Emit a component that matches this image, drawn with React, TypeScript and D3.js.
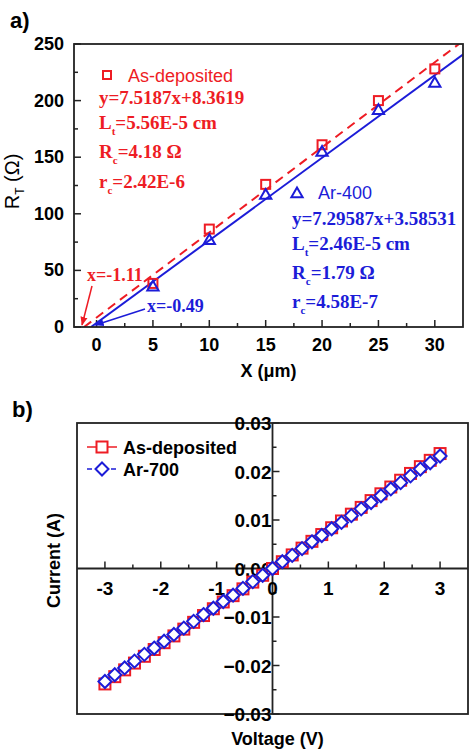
import React, { useEffect, useRef } from "react";
import * as d3 from "d3";

// TLM data (panel a)
const tlmSpacing = [5, 10, 15, 20, 25, 30];
const rtAsDeposited = [38.5, 86.5, 126, 161, 200, 228];
const rtAr400 = [36, 77, 117, 155, 192, 216];
const fitAsDeposited = { slope: 7.5187, intercept: 8.3619, xCut: -1.11 };
const fitAr400 = { slope: 7.29587, intercept: 3.58531, xCut: -0.49 };
const xTicksA = [0, 5, 10, 15, 20, 25, 30];
const yTicksA = [0, 50, 100, 150, 200, 250];

// I-V sweep (panel b)
const voltage = [
  -3.0, -2.824, -2.647, -2.471, -2.294, -2.118, -1.941, -1.765, -1.588, -1.412,
  -1.235, -1.059, -0.882, -0.706, -0.529, -0.353, -0.176, 0, 0.176, 0.353,
  0.529, 0.706, 0.882, 1.059, 1.235, 1.412, 1.588, 1.765, 1.941, 2.118, 2.294,
  2.471, 2.647, 2.824, 3.0,
];
const currentAsDeposited = [
  -0.0238, -0.0223, -0.0209, -0.0195, -0.0181, -0.0167, -0.0153, -0.0139,
  -0.0125, -0.0111, -0.0097, -0.0083, -0.0069, -0.0056, -0.0042, -0.0028,
  -0.0014, 0.0, 0.0014, 0.0028, 0.0042, 0.0056, 0.007, 0.0084, 0.0098, 0.0112,
  0.0126, 0.014, 0.0154, 0.0168, 0.0182, 0.0196, 0.021, 0.0223, 0.0237,
];
const currentAr700 = [
  -0.0233, -0.0219, -0.0205, -0.0191, -0.0177, -0.0164, -0.015, -0.0136,
  -0.0123, -0.0109, -0.0095, -0.0082, -0.0068, -0.0055, -0.0041, -0.0027,
  -0.0014, 0.0, 0.0014, 0.0027, 0.0041, 0.0055, 0.0068, 0.0082, 0.0095, 0.0109,
  0.0123, 0.0136, 0.015, 0.0164, 0.0177, 0.0191, 0.0205, 0.0218, 0.0232,
];
const xTicksB = [-3, -2, -1, 0, 1, 2, 3];
const yTicksB = [-0.03, -0.02, -0.01, 0, 0.01, 0.02, 0.03];

const RED = "#ee1c24";
const BLUE = "#1c1cd8";
const AXIS = "#222";
const SANS = "'Liberation Sans', Arial, sans-serif";
const SERIF = "'Liberation Serif', 'Times New Roman', serif";

type Sel = d3.Selection<SVGSVGElement, unknown, null, undefined>;
type Fit = { slope: number; intercept: number; xCut: number };

const App: React.FC = () => {
  const ref = useRef<SVGSVGElement>(null);
  const width = 474;
  const height = 751;

  useEffect(() => {
    const svg = d3.select(ref.current!) as Sel;
    svg.selectAll("*").remove();

    const defs = svg.append("defs");
    [
      ["arrowRed", RED],
      ["arrowBlue", BLUE],
    ].forEach(([id, color]) => {
      defs
        .append("marker")
        .attr("id", id)
        .attr("viewBox", "0 0 10 10")
        .attr("refX", 9)
        .attr("refY", 5)
        .attr("markerWidth", 6)
        .attr("markerHeight", 6)
        .attr("orient", "auto")
        .append("path")
        .attr("d", "M0,1 L10,5 L0,9 Z")
        .attr("fill", color);
    });

    drawPanelA(svg);
    drawPanelB(svg);
  }, []);

  const drawPanelA = (svg: Sel) => {
    const left = 74,
      right = 463,
      top = 44,
      bottom = 327;
    const x = d3.scaleLinear().domain([-2, 32.5]).range([left, right]);
    const y = d3.scaleLinear().domain([0, 250]).range([bottom, top]);
    const g = svg.append("g");

    g.append("text")
      .attr("x", 10)
      .attr("y", 28)
      .attr("font-family", SANS)
      .attr("font-weight", "bold")
      .attr("font-size", 22)
      .text("a)");

    // inward ticks, majors and minors
    d3.range(0, 32.5, 2.5).forEach((v) => {
      const major = v % 5 === 0;
      g.append("line")
        .attr("x1", x(v))
        .attr("x2", x(v))
        .attr("y1", bottom)
        .attr("y2", bottom - (major ? 7 : 4))
        .attr("stroke", AXIS)
        .attr("stroke-width", 1.5);
    });
    d3.range(0, 250.1, 25).forEach((v) => {
      const major = v % 50 === 0;
      g.append("line")
        .attr("x1", left)
        .attr("x2", left + (major ? 7 : 4))
        .attr("y1", y(v))
        .attr("y2", y(v))
        .attr("stroke", AXIS)
        .attr("stroke-width", 1.5);
    });

    g.selectAll(".xl")
      .data(xTicksA)
      .join("text")
      .attr("x", (d) => x(d))
      .attr("y", bottom + 24)
      .attr("text-anchor", "middle")
      .attr("font-family", SANS)
      .attr("font-weight", "bold")
      .attr("font-size", 18)
      .text((d) => d);
    g.selectAll(".yl")
      .data(yTicksA)
      .join("text")
      .attr("x", left - 10)
      .attr("y", (d) => y(d) + 6)
      .attr("text-anchor", "end")
      .attr("font-family", SANS)
      .attr("font-weight", "bold")
      .attr("font-size", 18)
      .text((d) => d);

    // axis titles
    g.append("text")
      .attr("x", (left + right) / 2)
      .attr("y", 377)
      .attr("text-anchor", "middle")
      .attr("font-family", SANS)
      .attr("font-weight", "bold")
      .attr("font-size", 18)
      .text("X (μm)");
    const yt = g
      .append("text")
      .attr("transform", `translate(19,${(top + bottom) / 2 - 4}) rotate(-90)`)
      .attr("text-anchor", "middle")
      .attr("font-family", SANS)
      .attr("font-size", 20);
    yt.append("tspan").text("R");
    yt.append("tspan").attr("font-size", 12).attr("dy", 5).text("T");
    yt.append("tspan").attr("dy", -5).text(" (Ω)");

    svg
      .select("defs")
      .append("clipPath")
      .attr("id", "clipA")
      .append("rect")
      .attr("x", left)
      .attr("y", top)
      .attr("width", right - left)
      .attr("height", bottom - top);

    const plot = g.append("g").attr("clip-path", "url(#clipA)");

    // fitted lines drawn from their x-axis intercept to the right edge
    const fitPath = (f: Fit) =>
      d3
        .line<number>()
        .x((d) => x(d))
        .y((d) => y(f.slope * (d - f.xCut)))([f.xCut, 33]);

    plot
      .append("path")
      .attr("d", fitPath(fitAsDeposited))
      .attr("fill", "none")
      .attr("stroke", RED)
      .attr("stroke-width", 2)
      .attr("stroke-dasharray", "9,6");
    plot
      .append("path")
      .attr("d", fitPath(fitAr400))
      .attr("fill", "none")
      .attr("stroke", BLUE)
      .attr("stroke-width", 2);

    const tri = d3.symbol().type(d3.symbolTriangle).size(55);
    tlmSpacing.forEach((s, i) => {
      plot
        .append("rect")
        .attr("x", x(s) - 4.5)
        .attr("y", y(rtAsDeposited[i]) - 4.5)
        .attr("width", 9)
        .attr("height", 9)
        .attr("fill", "none")
        .attr("stroke", RED)
        .attr("stroke-width", 2);
      plot
        .append("path")
        .attr("d", tri()!)
        .attr("transform", `translate(${x(s)},${y(rtAr400[i]) + 1})`)
        .attr("fill", "none")
        .attr("stroke", BLUE)
        .attr("stroke-width", 2);
    });

    // legend + annotation, as-deposited
    g.append("rect")
      .attr("x", 103)
      .attr("y", 71)
      .attr("width", 8)
      .attr("height", 8)
      .attr("fill", "none")
      .attr("stroke", RED)
      .attr("stroke-width", 2);
    g.append("text")
      .attr("x", 128)
      .attr("y", 82)
      .attr("font-family", SANS)
      .attr("font-size", 18)
      .attr("fill", RED)
      .text("As-deposited");

    const annot = (
      xPos: number,
      base: number[],
      color: string,
      eq: string,
      lt: string,
      rc: string,
      rsc: string
    ) => {
      const line = (yPos: number) =>
        g
          .append("text")
          .attr("x", xPos)
          .attr("y", yPos)
          .attr("font-family", SERIF)
          .attr("font-weight", "bold")
          .attr("font-size", 19)
          .attr("fill", color);
      line(base[0]).text(eq);
      [
        ["L", "t", lt],
        ["R", "c", rc],
        ["r", "c", rsc],
      ].forEach(([a, sub, rest], i) => {
        const t = line(base[i + 1]);
        t.append("tspan").text(a);
        t.append("tspan").attr("font-size", 11).attr("dy", 6).text(sub);
        t.append("tspan").attr("dy", -6).text(rest);
      });
    };
    annot(
      99,
      [104, 129, 158, 188],
      RED,
      `y=${fitAsDeposited.slope}x+${fitAsDeposited.intercept}`,
      "=5.56E-5 cm",
      "=4.18 Ω",
      "=2.42E-6"
    );

    // legend + annotation, Ar-400
    g.append("path")
      .attr("d", tri()!)
      .attr("transform", "translate(297,194)")
      .attr("fill", "none")
      .attr("stroke", BLUE)
      .attr("stroke-width", 2);
    g.append("text")
      .attr("x", 318)
      .attr("y", 199)
      .attr("font-family", SANS)
      .attr("font-size", 18)
      .attr("fill", BLUE)
      .text("Ar-400");
    annot(
      292,
      [225, 250, 279, 308],
      BLUE,
      `y=${fitAr400.slope}x+${fitAr400.intercept}`,
      "=2.46E-5 cm",
      "=1.79 Ω",
      "=4.58E-7"
    );

    // intercept call-outs
    g.append("text")
      .attr("x", 87)
      .attr("y", 281)
      .attr("font-family", SERIF)
      .attr("font-weight", "bold")
      .attr("font-size", 18)
      .attr("fill", RED)
      .text(`x=${fitAsDeposited.xCut}`);
    g.append("line")
      .attr("x1", 92)
      .attr("y1", 286)
      .attr("x2", x(fitAsDeposited.xCut) - 2)
      .attr("y2", bottom - 2)
      .attr("stroke", RED)
      .attr("stroke-width", 1.5)
      .attr("marker-end", "url(#arrowRed)");
    g.append("text")
      .attr("x", 147)
      .attr("y", 312)
      .attr("font-family", SERIF)
      .attr("font-weight", "bold")
      .attr("font-size", 18)
      .attr("fill", BLUE)
      .text(`x=${fitAr400.xCut}`);
    g.append("line")
      .attr("x1", 145)
      .attr("y1", 309)
      .attr("x2", x(0) - 1)
      .attr("y2", bottom - 2)
      .attr("stroke", BLUE)
      .attr("stroke-width", 1.5)
      .attr("marker-end", "url(#arrowBlue)");

    g.append("rect")
      .attr("x", left)
      .attr("y", top)
      .attr("width", right - left)
      .attr("height", bottom - top)
      .attr("fill", "none")
      .attr("stroke", AXIS)
      .attr("stroke-width", 1.8);
  };

  const drawPanelB = (svg: Sel) => {
    const left = 77,
      right = 468,
      top = 423,
      bottom = 714;
    const x = d3.scaleLinear().domain([-3.5, 3.5]).range([left, right]);
    const y = d3.scaleLinear().domain([-0.03, 0.03]).range([bottom, top]);
    const g = svg.append("g");

    g.append("text")
      .attr("x", 12)
      .attr("y", 417)
      .attr("font-family", SANS)
      .attr("font-weight", "bold")
      .attr("font-size", 22)
      .text("b)");

    g.append("rect")
      .attr("x", left)
      .attr("y", top)
      .attr("width", right - left)
      .attr("height", bottom - top)
      .attr("fill", "none")
      .attr("stroke", AXIS)
      .attr("stroke-width", 1.8);

    // axes through the origin
    g.append("line")
      .attr("x1", left)
      .attr("x2", right)
      .attr("y1", y(0))
      .attr("y2", y(0))
      .attr("stroke", AXIS)
      .attr("stroke-width", 1.8);
    g.append("line")
      .attr("x1", x(0))
      .attr("x2", x(0))
      .attr("y1", top)
      .attr("y2", bottom)
      .attr("stroke", AXIS)
      .attr("stroke-width", 1.8);

    d3.range(-3, 3.01, 0.5).forEach((v) => {
      const major = Math.abs(v % 1) < 1e-9;
      g.append("line")
        .attr("x1", x(v))
        .attr("x2", x(v))
        .attr("y1", y(0))
        .attr("y2", y(0) - (major ? 7 : 4))
        .attr("stroke", AXIS)
        .attr("stroke-width", 1.5);
    });
    d3.range(-6, 7).forEach((k) => {
      const v = k * 0.005;
      g.append("line")
        .attr("x1", x(0))
        .attr("x2", x(0) + (k % 2 === 0 ? 7 : 4))
        .attr("y1", y(v))
        .attr("y2", y(v))
        .attr("stroke", AXIS)
        .attr("stroke-width", 1.5);
    });

    g.selectAll(".xl")
      .data(xTicksB)
      .join("text")
      .attr("x", (d) => x(d))
      .attr("y", y(0) + 26)
      .attr("text-anchor", "middle")
      .attr("font-family", SANS)
      .attr("font-weight", "bold")
      .attr("font-size", 19)
      .text((d) => d);
    g.selectAll(".yl")
      .data(yTicksB)
      .join("text")
      .attr("x", x(0) - 1)
      .attr("y", (d) => y(d) + 7)
      .attr("text-anchor", "end")
      .attr("font-family", SANS)
      .attr("font-weight", "bold")
      .attr("font-size", 19)
      .text((d) => d3.format(".2f")(d));

    g.append("text")
      .attr("x", (left + right) / 2 + 5)
      .attr("y", 745)
      .attr("text-anchor", "middle")
      .attr("font-family", SANS)
      .attr("font-weight", "bold")
      .attr("font-size", 18)
      .text("Voltage (V)");
    g.append("text")
      .attr("transform", `translate(60,${(top + bottom) / 2 - 8}) rotate(-90)`)
      .attr("text-anchor", "middle")
      .attr("font-family", SANS)
      .attr("font-weight", "bold")
      .attr("font-size", 18)
      .text("Current (A)");

    const line = d3
      .line<number>()
      .x((_, i) => x(voltage[i]))
      .y((d) => y(d));

    g.append("path")
      .attr("d", line(currentAsDeposited)!)
      .attr("fill", "none")
      .attr("stroke", RED)
      .attr("stroke-width", 1.5);
    g.append("path")
      .attr("d", line(currentAr700)!)
      .attr("fill", "none")
      .attr("stroke", BLUE)
      .attr("stroke-width", 1.5)
      .attr("stroke-dasharray", "5,3");

    const diamond = "M0,-6.5 L6.5,0 L0,6.5 L-6.5,0 Z";
    currentAsDeposited.forEach((c, i) => {
      g.append("rect")
        .attr("x", x(voltage[i]) - 5.5)
        .attr("y", y(c) - 5.5)
        .attr("width", 11)
        .attr("height", 11)
        .attr("fill", "white")
        .attr("stroke", RED)
        .attr("stroke-width", 2);
    });
    currentAr700.forEach((c, i) => {
      g.append("path")
        .attr("d", diamond)
        .attr("transform", `translate(${x(voltage[i])},${y(c)})`)
        .attr("fill", "white")
        .attr("stroke", BLUE)
        .attr("stroke-width", 2);
    });

    // legend
    g.append("line")
      .attr("x1", 87)
      .attr("x2", 117)
      .attr("y1", 447)
      .attr("y2", 447)
      .attr("stroke", RED)
      .attr("stroke-width", 1.5);
    g.append("rect")
      .attr("x", 96.5)
      .attr("y", 441.5)
      .attr("width", 11)
      .attr("height", 11)
      .attr("fill", "white")
      .attr("stroke", RED)
      .attr("stroke-width", 2);
    g.append("text")
      .attr("x", 123)
      .attr("y", 454)
      .attr("font-family", SANS)
      .attr("font-weight", "bold")
      .attr("font-size", 18)
      .text("As-deposited");
    g.append("line")
      .attr("x1", 87)
      .attr("x2", 117)
      .attr("y1", 469)
      .attr("y2", 469)
      .attr("stroke", BLUE)
      .attr("stroke-width", 1.5)
      .attr("stroke-dasharray", "5,3");
    g.append("path")
      .attr("d", diamond)
      .attr("transform", "translate(102,469)")
      .attr("fill", "white")
      .attr("stroke", BLUE)
      .attr("stroke-width", 2);
    g.append("text")
      .attr("x", 123)
      .attr("y", 476)
      .attr("font-family", SANS)
      .attr("font-weight", "bold")
      .attr("font-size", 18)
      .text("Ar-700");
  };

  return (
    <svg
      ref={ref}
      width={width}
      height={height}
      style={{ position: "absolute", left: 0, top: 0, background: "white" }}
    />
  );
};

export default App;
